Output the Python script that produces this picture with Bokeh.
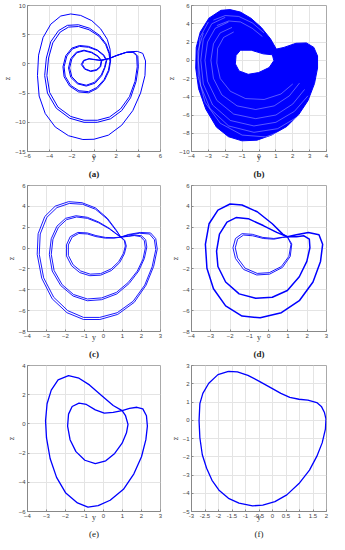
from bokeh.plotting import figure
from bokeh.layouts import gridplot
from bokeh.models import Range1d, FixedTicker
from bokeh.embed import file_html
from bokeh.resources import INLINE

BLUE = "#0000ff"

# ---------------- panel (a) ----------------
a_outer_y = [1.5, 1.35, 0.95, 0.3, -0.5, -1.4, -2.2, -2.7, -2.8, -2.55, -2.0, -1.3, -0.5, 0.3, 0.9, 1.15,
             1.0, 0.7, 0.1, -0.7, -1.5, -2.1, -2.3, -2.1, -1.6, -0.9, -0.2, 0.4, 0.7,
             0.6, 0.25, -0.3, -0.85, -1.15, -0.95, -0.45, 0.1, 0.6,
             1.3, 2.1, 3.0, 3.9, 4.4,
             4.65, 4.6, 4.2, 3.5, 2.5, 1.3, 0.0, -1.0, -2.3, -3.5, -4.4, -4.95, -5.1, -5.0, -4.6, -3.9, -3.0, -2.1, -1.2, -0.2, 0.6, 1.2, 1.45, 1.5]
a_outer_z = [0.5, -1.2, -2.8, -4.2, -4.95, -4.8, -3.8, -2.2, -0.5, 1.4, 2.7, 3.15, 3.0, 2.4, 1.5, 0.6,
             -0.6, -2.0, -3.3, -3.8, -3.4, -2.3, -0.7, 0.9, 2.0, 2.35, 2.0, 1.3, 0.5,
             -0.5, -1.1, -1.3, -0.9, -0.1, 0.6, 0.9, 0.75, 0.6,
             0.9, 1.5, 2.05, 2.15, 1.8,
             0.5, -2.0, -5.0, -8.0, -10.5, -12.2, -12.9, -12.95, -12.3, -10.8, -8.5, -5.5, -2.0, 1.5, 4.5, 6.8, 8.2, 8.55, 8.3, 7.4, 6.0, 4.2, 2.5, 0.5]
a_mid1_y = [1.45, 1.3, 0.9, 0.25, -0.5, -1.35, -2.1, -2.6, -2.7, -2.45, -1.95, -1.3, -0.5, 0.3, 0.85, 1.1,
            0.95, 0.65, 0.05, -0.7, -1.45, -2.0, -2.2, -2.0, -1.55, -0.9, -0.2, 0.35, 0.65,
            0.55, 0.2, -0.3, -0.8, -1.05, -0.9, -0.45, 0.1, 0.6,
            1.3, 2.1, 2.9, 3.6, 3.95,
            4.0, 3.8, 3.3, 2.5, 1.5, 0.3, -0.9, -2.2, -3.4, -4.2, -4.45, -4.3, -3.9, -3.2, -2.4, -1.4, -0.4, 0.5, 1.1, 1.4, 1.45]
a_mid1_z = [0.5, -1.1, -2.7, -4.05, -4.75, -4.6, -3.7, -2.1, -0.5, 1.35, 2.55, 3.0, 2.85, 2.3, 1.45, 0.6,
            -0.6, -1.9, -3.15, -3.65, -3.3, -2.2, -0.7, 0.85, 1.9, 2.25, 1.9, 1.25, 0.5,
            -0.45, -1.0, -1.2, -0.85, -0.1, 0.55, 0.85, 0.7, 0.6,
            0.85, 1.45, 1.95, 2.0, 1.3,
            -0.5, -3.0, -5.8, -8.0, -9.4, -10.0, -10.0, -9.3, -7.6, -5.0, -2.0, 1.0, 3.8, 5.7, 6.6, 6.7, 6.1, 4.9, 3.4, 1.8, 0.5]
a_mid2_y = [0.6, 1.3, 2.1, 2.9, 3.5, 3.85, 3.9, 3.7, 3.2, 2.4, 1.4, 0.3, -0.9, -2.1, -3.25, -4.0, -4.25, -4.1,
            -3.72, -3.05, -2.3, -1.4, -0.45, 0.45, 1.05, 1.35, 1.45]
a_mid2_z = [0.6, 0.88, 1.48, 1.98, 2.0, 1.4, -0.5, -3.0, -5.6, -7.7, -9.1, -9.65, -9.65, -9.0, -7.4, -4.9, -2.0, 1.0,
            3.6, 5.45, 6.3, 6.4, 5.85, 4.75, 3.3, 1.8, 0.5]

# ---------------- panel (b) ----------------
b_outer_y = [-2.26, -1.72, -1.1, -0.48, 0.14, 0.68, 1.03, 1.48, 2.19, 2.81, 3.25, 3.47, 3.47, 3.29, 2.9, 2.36,
             1.65, 0.76, -0.12, -1.01, -1.81, -2.52, -3.15, -3.58, -3.75, -3.72, -3.48, -2.97]
b_outer_z = [5.47, 5.55, 5.28, 4.61, 3.59, 2.35, 1.22, 1.41, 1.86, 1.9, 1.41, 0.47, -0.85, -2.55, -4.43, -5.94,
             -7.25, -8.19, -8.76, -8.83, -8.38, -7.33, -5.37, -3.11, -0.85, 1.41, 3.1, 4.61]
b_hole_y = [-1.36, -1.1, -0.46, 0.25, 0.79, 0.88, 0.6, -0.02, -0.64, -1.18, -1.4]
b_hole_z = [0.53, 1.1, 1.1, 0.7, 0.6, -0.04, -0.8, -1.35, -1.54, -1.17, -0.4]
b_streaks_y = [[-1.5, -2.1, -2.45, -2.5, -2.3, -1.7, -0.8, 0.3, 1.3, 2.0],
               [-1.6, -2.3, -2.7, -2.85, -2.7, -2.2, -1.3, -0.2, 0.9, 1.8, 2.4],
               [-1.8, -2.6, -3.05, -3.2, -3.05, -2.5, -1.5, -0.2, 1.0, 2.0, 2.7],
               [-2.0, -2.8, -3.3, -3.45, -3.3, -2.75, -1.7, -0.3, 1.0, 2.1, 2.9],
               [-3.0, -3.5, -3.6, -3.45, -2.9, -1.8, -0.3, 1.1, 2.2],
               [-3.3, -3.62, -3.6, -3.2, -2.3, -1.0, 0.4, 1.6],
               [-2.7, -2.0, -1.2, -0.4, 0.3],
               [-2.5, -1.8, -1.1, -0.4, 0.2]]
b_streaks_z = [[3.1, 2.5, 1.3, -0.3, -2.0, -3.4, -4.2, -4.3, -3.7, -2.6],
               [3.6, 3.0, 1.8, 0.0, -2.0, -3.8, -5.0, -5.4, -5.0, -3.9, -2.5],
               [4.2, 3.5, 2.0, 0.0, -2.3, -4.4, -5.9, -6.4, -6.0, -4.8, -3.2],
               [4.7, 4.0, 2.3, 0.0, -2.6, -4.9, -6.6, -7.2, -6.8, -5.6, -3.9],
               [4.2, 2.5, 0.0, -2.8, -5.3, -7.2, -7.9, -7.5, -6.3],
               [3.0, 1.0, -1.8, -4.6, -6.9, -8.2, -8.4, -7.6],
               [4.4, 4.9, 4.8, 4.1, 3.0],
               [3.8, 4.3, 4.2, 3.5, 2.6]]

# ---------------- panel (c) ----------------
c_outer_a_y = [0.91, 1.3, 1.93, 2.48, 2.75, 2.83, 2.64, 2.24, 1.62, 0.75, -0.19, -1.05, -1.92, -2.7, -3.25, -3.49,
               -3.44, -3.09, -2.54, -1.84, -1.13, -0.42, 0.2, 0.68, 0.91]
c_outer_a_z = [1.05, 1.3, 1.5, 1.45, 0.9, -0.1, -1.75, -3.56, -5.2, -6.36, -6.85, -6.85, -6.2, -4.87, -2.9, -0.6,
               1.38, 3.03, 4.02, 4.45, 4.35, 3.85, 2.87, 1.71, 1.05]
c_outer_b_y = [0.91, 1.3, 1.9, 2.42, 2.68, 2.75, 2.56, 2.17, 1.56, 0.72, -0.2, -1.05, -1.88, -2.62, -3.15, -3.38,
               -3.33, -2.98, -2.45, -1.8, -1.1, -0.42, 0.2, 0.66, 0.91]
c_outer_b_z = [1.05, 1.25, 1.42, 1.35, 0.8, -0.15, -1.8, -3.55, -5.1, -6.2, -6.65, -6.65, -6.0, -4.72, -2.85, -0.6,
               1.35, 2.95, 3.88, 4.28, 4.2, 3.72, 2.78, 1.68, 1.05]
c_mid_a_y = [0.91, 1.3, 1.65, 2.0, 2.22, 2.28, 2.15, 1.85, 1.35, 0.7, -0.1, -0.85, -1.6, -2.25, -2.7, -2.85,
             -2.75, -2.45, -2.0, -1.45, -0.85, -0.25, 0.3, 0.7, 0.91]
c_mid_a_z = [1.05, 1.15, 1.25, 1.18, 0.8, 0.1, -1.0, -2.2, -3.4, -4.4, -4.95, -5.05, -4.6, -3.6, -2.2, -0.6,
             0.9, 2.1, 2.85, 3.1, 2.95, 2.5, 1.9, 1.35, 1.05]
c_mid_b_y = [0.91, 1.3, 1.62, 1.95, 2.15, 2.2, 2.08, 1.78, 1.3, 0.68, -0.1, -0.85, -1.58, -2.18, -2.6, -2.75,
             -2.66, -2.37, -1.95, -1.42, -0.85, -0.25, 0.3, 0.7, 0.91]
c_mid_b_z = [1.05, 1.12, 1.2, 1.1, 0.7, 0.0, -1.05, -2.2, -3.3, -4.25, -4.78, -4.88, -4.45, -3.5, -2.15, -0.6,
             0.85, 2.0, 2.72, 2.98, 2.85, 2.42, 1.85, 1.3, 1.05]
c_inner_a_y = [0.91, 1.1, 1.15, 1.05, 0.8, 0.4, -0.15, -0.7, -1.2, -1.6, -1.85, -1.85, -1.65, -1.3, -0.85, -0.4,
               0.1, 0.55, 0.91]
c_inner_a_z = [1.05, 0.7, 0.2, -0.5, -1.3, -2.0, -2.45, -2.5, -2.2, -1.6, -0.7, 0.3, 1.05, 1.4, 1.35, 1.1,
               0.95, 0.95, 1.05]
c_inner_b_y = [0.91, 1.12, 1.2, 1.1, 0.85, 0.42, -0.15, -0.72, -1.25, -1.68, -1.95, -1.95, -1.75, -1.35, -0.85,
               -0.4, 0.1, 0.55, 0.91]
c_inner_b_z = [1.05, 0.75, 0.2, -0.55, -1.4, -2.15, -2.6, -2.65, -2.35, -1.7, -0.75, 0.3, 1.1, 1.5, 1.45, 1.2,
               1.02, 1.0, 1.05]

# ---------------- panel (d) ----------------
d_outer_y = [0.97, 1.44, 2.06, 2.61, 2.8, 2.69, 2.3, 1.59, 0.66, -0.44, -1.38, -2.23, -2.86, -3.2, -3.28, -3.09,
             -2.63, -2.0, -1.38, -0.59, 0.19, 0.73, 0.97]
d_outer_z = [1.08, 1.28, 1.5, 1.28, 0.36, -1.28, -3.25, -5.05, -6.2, -6.69, -6.52, -5.54, -3.9, -1.93, 0.36, 2.33,
             3.64, 4.23, 4.13, 3.48, 2.33, 1.34, 1.08]
d_mid_y = [0.97, 1.44, 1.83, 2.11, 2.14, 1.98, 1.59, 0.97, 0.19, -0.67, -1.53, -2.23, -2.63, -2.7, -2.55, -2.16,
           -1.69, -1.06, -0.28, 0.42, 0.97]
d_mid_z = [1.08, 1.08, 1.18, 0.85, 0.03, -1.28, -2.75, -4.07, -4.72, -4.82, -4.39, -3.25, -1.77, -0.3, 1.34, 2.49,
           2.92, 2.82, 2.16, 1.51, 1.08]
d_inner_a_y = [0.97, 1.16, 1.05, 0.66, 0.03, -0.59, -1.22, -1.61, -1.73, -1.61, -1.3, -0.83, -0.28, 0.27, 0.73, 0.97]
d_inner_a_z = [1.08, 0.36, -0.79, -1.77, -2.36, -2.43, -1.93, -0.95, 0.03, 0.85, 1.25, 1.18, 0.92, 0.85, 1.02, 1.08]
d_inner_b_y = [0.97, 1.2, 1.12, 0.72, 0.05, -0.62, -1.3, -1.72, -1.85, -1.72, -1.38, -0.85, -0.3, 0.27, 0.73, 0.97]
d_inner_b_z = [1.08, 0.4, -0.8, -1.85, -2.5, -2.58, -2.05, -1.0, 0.03, 0.92, 1.38, 1.32, 1.02, 0.92, 1.04, 1.08]

# ---------------- panel (e) ----------------
e_y = [0.98, 1.16, 1.29, 1.21, 0.98, 0.59, 0.12, -0.43, -0.98, -1.45, -1.76, -1.89, -1.84, -1.65, -1.29, -0.9,
       -0.43, 0.04, 0.51, 0.98,
       1.37, 1.76, 2.07, 2.26, 2.31, 2.23, 2.0, 1.6, 1.05, 0.35, -0.28, -0.82, -1.37, -2.0, -2.47, -2.81, -3.0,
       -3.05, -2.97, -2.75, -2.39, -1.84, -1.29, -0.74, -0.12, 0.51, 0.98]
e_z = [0.91, 0.56, -0.03, -0.61, -1.32, -2.02, -2.53, -2.72, -2.49, -1.9, -1.08, -0.15, 0.67, 1.19, 1.42, 1.33,
       0.96, 0.74, 0.79, 0.91,
       1.07, 1.14, 1.03, 0.56, -0.15, -1.08, -2.25, -3.42, -4.48, -5.23, -5.6, -5.7, -5.41, -4.71, -3.66, -2.37, -0.96,
       0.21, 1.38, 2.31, 3.02, 3.3, 3.13, 2.67, 1.96, 1.26, 0.91]

# ---------------- panel (f) ----------------
f_y = [-1.63, -2.02, -2.36, -2.58, -2.69, -2.72, -2.69, -2.6, -2.44, -2.24, -1.97, -1.63, -1.24, -0.74, -0.36,
       0.09, 0.53, 0.98, 1.37, 1.64, 1.84, 1.96, 1.98, 1.92, 1.81, 1.64, 1.31, 0.98, 0.64, 0.31, -0.02, -0.47,
       -0.91, -1.3, -1.63]
f_z = [2.68, 2.5, 2.03, 1.47, 0.91, -0.02, -0.96, -1.89, -2.63, -3.29, -3.85, -4.28, -4.54, -4.69, -4.65,
       -4.46, -4.09, -3.47, -2.73, -1.98, -1.24, -0.49, 0.07, 0.44, 0.76, 0.97, 1.1, 1.15, 1.25, 1.47, 1.75, 2.12,
       2.46, 2.65, 2.68]

# ---------------- axes ----------------
a_xticks = [-6, -4, -2, 0, 2, 4, 6]
a_yticks = [-15, -10, -5, 0, 5, 10]
b_xticks = [-4, -3, -2, -1, 0, 1, 2, 3, 4]
b_yticks = [-10, -8, -6, -4, -2, 0, 2, 4, 6]
cd_xticks = [-4, -3, -2, -1, 0, 1, 2, 3]
cd_yticks = [-8, -6, -4, -2, 0, 2, 4, 6]
e_xticks = [-4, -3, -2, -1, 0, 1, 2, 3]
e_yticks = [-6, -4, -2, 0, 2, 4]
f_xticks = [-3, -2.5, -2, -1.5, -1, -0.5, 0, 0.5, 1, 1.5, 2]
f_xlabels = ["-3", "-2.5", "-2", "-1.5", "-1", "-0.5", "0", "0.5", "1", "1.5", "2"]
f_yticks = [-5, -4, -3, -2, -1, 0, 1, 2, 3]
captions = ["(a)", "(b)", "(c)", "(d)", "(e)", "(f)"]


def make_fig(xticks, yticks, caption, left, bold=True, xlabels=None):
    width = 164 if left else 165
    p = figure(width=width, height=180,
               x_range=Range1d(xticks[0], xticks[-1]), y_range=Range1d(yticks[0], yticks[-1]),
               output_backend="svg", toolbar_location=None,
               title=caption, title_location="below",
               min_border_left=2 if left else 4, min_border_right=4 if left else 3,
               min_border_top=5, min_border_bottom=0)
    p.title.align = "center"
    p.title.text_font = "Liberation Serif"
    p.title.text_font_size = "9px"
    p.title.text_font_style = "bold" if bold else "normal"
    p.title.text_color = "#222222"
    p.title.standoff = 4
    p.xaxis.ticker = FixedTicker(ticks=xticks)
    p.yaxis.ticker = FixedTicker(ticks=yticks)
    if xlabels is not None:
        p.xaxis.major_label_overrides = {t: l for t, l in zip(xticks, xlabels)}
    for ax in (p.xaxis, p.yaxis):
        ax.major_label_text_font = "Liberation Sans"
        ax.major_label_text_font_size = "6px"
        ax.major_label_text_color = "#444444"
        ax.major_label_standoff = 2
        ax.axis_line_color = "#888888"
        ax.major_tick_line_color = "#888888"
        ax.major_tick_in = 2
        ax.major_tick_out = 0
        ax.minor_tick_line_color = None
        ax.axis_label_text_font = "Liberation Serif"
        ax.axis_label_text_font_size = "8px"
        ax.axis_label_text_font_style = "normal"
        ax.axis_label_text_color = "#333333"
    p.xaxis.axis_label = "y"
    p.xaxis.axis_label_standoff = -8
    p.yaxis.axis_label = "z"
    p.yaxis.axis_label_standoff = 0
    p.grid.grid_line_color = "#e4e4e4"
    p.outline_line_color = "#aaaaaa"
    p.background_fill_color = "white"
    return p


pa = make_fig(a_xticks, a_yticks, captions[0], True)
for ys, zs in [(a_outer_y, a_outer_z), (a_mid1_y, a_mid1_z), (a_mid2_y, a_mid2_z)]:
    pa.line(ys, zs, line_color=BLUE, line_width=1.0)

pb = make_fig(b_xticks, b_yticks, captions[1], False)
pb.multi_polygons(xs=[[[b_outer_y, b_hole_y]]], ys=[[[b_outer_z, b_hole_z]]],
                  fill_color=BLUE, line_color=BLUE, line_width=1.0)
pb.multi_line(b_streaks_y, b_streaks_z, line_color="white", line_alpha=0.5, line_width=0.7)

pc = make_fig(cd_xticks, cd_yticks, captions[2], True)
for ys, zs in [(c_outer_a_y, c_outer_a_z), (c_outer_b_y, c_outer_b_z), (c_mid_a_y, c_mid_a_z),
               (c_mid_b_y, c_mid_b_z), (c_inner_a_y, c_inner_a_z), (c_inner_b_y, c_inner_b_z)]:
    pc.line(ys, zs, line_color=BLUE, line_width=0.9)

pd_ = make_fig(cd_xticks, cd_yticks, captions[3], False)
for ys, zs in [(d_outer_y, d_outer_z), (d_mid_y, d_mid_z)]:
    pd_.line(ys, zs, line_color=BLUE, line_width=1.5)
for ys, zs in [(d_inner_a_y, d_inner_a_z), (d_inner_b_y, d_inner_b_z)]:
    pd_.line(ys, zs, line_color=BLUE, line_width=0.9)

pe = make_fig(e_xticks, e_yticks, captions[4], True, bold=False)
pe.line(e_y, e_z, line_color=BLUE, line_width=1.3)

pf = make_fig(f_xticks, f_yticks, captions[5], False, bold=False, xlabels=f_xlabels)
pf.line(f_y, f_z, line_color=BLUE, line_width=1.3)

grid = gridplot([[pa, pb], [pc, pd_], [pe, pf]], toolbar_location=None)
open("out.html", "w").write(file_html(grid, INLINE))
